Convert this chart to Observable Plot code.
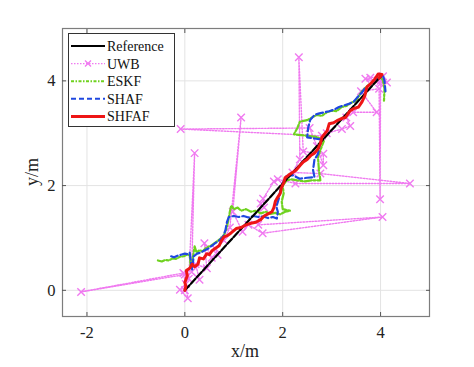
<!DOCTYPE html>
<html><head><meta charset="utf-8">
<script src="https://cdn.jsdelivr.net/npm/d3@7"></script>
<script src="https://cdn.jsdelivr.net/npm/@observablehq/plot@0.6"></script>
<style>body{margin:0;background:#fff;} svg{background:#fff;}</style>
</head><body><div id="chart"></div>
<script>
const seriesNames = ["Reference","UWB","ESKF","SHAF","SHFAF"];
const xTicks = [-2,0,2,4];
const yTicks = [0,2,4];

const reference = [[0,0],[4,4.08]];

const uwb = [[0,0],[-0.1,0.01],[0.06,-0.15],[0.02,0.12],[-0.03,0.33],[-2.12,-0.03],[0.0,0.3],[0.08,0.22],[0.2,2.62],[0.14,0.35],[0.3,0.2],[0.22,0.5],[0.45,0.42],[0.4,0.9],[0.55,0.62],[0.67,0.68],[0.62,0.8],[0.8,0.95],[0.92,1.2],[1.15,3.3],[0.98,1.5],[1.18,1.12],[1.3,1.25],[1.59,1.09],[4.04,1.40],[1.5,1.25],[1.55,1.66],[1.62,1.58],[1.6,1.75],[1.82,2.08],[1.9,2.12],[2.26,2.04],[4.6,2.04],[2.77,2.23],[2.2,2.25],[2.35,2.5],[2.33,4.45],[2.42,2.65],[2.83,2.61],[2.83,2.39],[2.7,2.75],[2.55,3.1],[-0.085,3.08],[2.8,2.95],[2.9,3.0],[3.21,3.08],[3.38,3.14],[3.3,3.3],[3.44,3.4],[3.92,3.4],[3.6,3.8],[3.97,3.85],[3.99,1.74],[4.0,3.95],[3.69,4.04],[3.79,4.06],[4.05,4.09],[4.13,3.97],[4.0,4.0]];

const eskf = [[-0.55,0.57],[-0.47,0.55],[-0.4,0.58],[-0.33,0.57],[-0.25,0.61],[-0.18,0.6],[-0.1,0.64],[-0.02,0.65],[0.05,0.69],[0.1,0.66],[0.12,0.45],[0.16,0.6],[0.2,0.84],[0.24,0.72],[0.3,0.77],[0.36,0.74],[0.42,0.8],[0.5,0.84],[0.58,0.88],[0.65,0.93],[0.72,0.98],[0.8,1.05],[0.85,1.18],[0.88,1.3],[0.92,1.5],[0.95,1.62],[1.0,1.55],[1.08,1.58],[1.15,1.52],[1.25,1.55],[1.35,1.5],[1.45,1.52],[1.55,1.47],[1.65,1.5],[1.75,1.46],[1.85,1.48],[1.95,1.45],[2.05,1.5],[2.15,1.52],[2.0,1.55],[1.98,1.7],[2.02,1.85],[2.0,2.0],[2.08,2.1],[2.18,2.12],[2.3,2.1],[2.45,2.08],[2.6,2.1],[2.77,2.1],[2.74,2.3],[2.72,2.55],[2.78,2.7],[2.84,2.85],[2.7,2.93],[2.5,2.95],[2.23,2.98],[2.3,3.1],[2.35,3.22],[2.5,3.25],[2.6,3.3],[2.7,3.35],[2.8,3.33],[2.9,3.4],[3.0,3.43],[3.1,3.42],[3.2,3.5],[3.3,3.52],[3.4,3.58],[3.5,3.62],[3.55,3.7],[3.62,3.8],[3.7,3.88],[3.8,3.95],[3.9,4.02],[4.0,4.08],[4.05,4.0],[4.08,3.85],[4.07,3.62]];

const shaf = [[-0.28,0.65],[-0.22,0.63],[-0.15,0.66],[-0.08,0.68],[0.0,0.7],[0.05,0.69],[0.1,0.72],[0.13,0.5],[0.15,0.4],[0.18,0.65],[0.25,0.7],[0.32,0.72],[0.4,0.76],[0.48,0.8],[0.55,0.85],[0.62,0.9],[0.7,0.95],[0.78,1.02],[0.83,1.15],[0.86,1.3],[0.9,1.4],[1.0,1.42],[1.1,1.4],[1.2,1.42],[1.3,1.39],[1.4,1.42],[1.5,1.4],[1.6,1.41],[1.7,1.38],[1.8,1.4],[1.88,1.37],[1.9,1.5],[1.87,1.6],[1.92,1.75],[1.95,1.9],[2.0,2.05],[2.08,2.18],[2.2,2.2],[2.35,2.13],[2.5,2.15],[2.65,2.16],[2.62,2.3],[2.65,2.5],[2.72,2.6],[2.75,2.75],[2.8,2.88],[2.65,2.9],[2.5,2.92],[2.52,3.1],[2.56,3.25],[2.65,3.35],[2.75,3.38],[2.85,3.4],[2.95,3.42],[3.05,3.45],[3.15,3.5],[3.25,3.53],[3.35,3.56],[3.45,3.6],[3.52,3.68],[3.6,3.76],[3.68,3.85],[3.78,3.93],[3.88,4.0],[3.97,4.05],[4.05,4.1],[4.08,4.0],[4.1,3.8]];

const shfaf = [[0,0],[0.02,0.08],[0.0,0.15],[0.05,0.28],[0.03,0.38],[0.1,0.42],[0.15,0.5],[0.2,0.45],[0.27,0.5],[0.3,0.62],[0.38,0.6],[0.45,0.7],[0.5,0.68],[0.55,0.75],[0.62,0.8],[0.7,0.85],[0.75,0.95],[0.8,1.02],[0.88,1.05],[0.95,1.1],[1.05,1.18],[1.15,1.2],[1.25,1.25],[1.35,1.28],[1.45,1.3],[1.55,1.35],[1.62,1.42],[1.7,1.46],[1.78,1.5],[1.82,1.58],[1.85,1.7],[1.9,1.78],[1.95,1.85],[1.97,1.95],[2.02,2.05],[2.05,2.15],[2.12,2.2],[2.2,2.25],[2.28,2.3],[2.35,2.38],[2.42,2.45],[2.5,2.5],[2.58,2.58],[2.65,2.62],[2.72,2.7],[2.77,2.8],[2.8,2.92],[2.91,3.05],[2.95,3.18],[3.04,3.2],[3.11,3.24],[3.2,3.28],[3.28,3.3],[3.38,3.43],[3.45,3.47],[3.55,3.5],[3.62,3.6],[3.68,3.72],[3.72,3.88],[3.8,3.95],[3.88,4.03],[3.95,4.13],[4.03,4.12],[3.97,4.05]];

const colors = {Reference:"#000000", UWB:"#f07af0", ESKF:"#6fd21f", SHAF:"#1f48e0", SHFAF:"#ee1515"};
const font = "'Liberation Serif', 'Times New Roman', serif";
const fmt = d => String(d);

const chart = Plot.plot({
  width: 474, height: 367,
  marginLeft: 62, marginRight: 45, marginTop: 28, marginBottom: 51,
  style: {fontFamily: font, background: "#fff"},
  x: {domain: [-2.5, 5]},
  y: {domain: [-0.5, 5]},
  marks: [
    Plot.gridX(xTicks, {stroke: "#e3e3e3", strokeOpacity: 1}),
    Plot.gridY(yTicks, {stroke: "#e3e3e3", strokeOpacity: 1}),
    Plot.line(uwb, {x: d => d[0], y: d => d[1], stroke: colors.UWB, strokeWidth: 1.4, strokeDasharray: "1.5,1.5"}),
    Plot.dot(uwb, {x: d => d[0], y: d => d[1], symbol: "times", r: 3.5, stroke: colors.UWB, strokeWidth: 1.4}),
    Plot.line(eskf, {x: d => d[0], y: d => d[1], stroke: colors.ESKF, strokeWidth: 2.2, strokeDasharray: "7,2,2,2"}),
    Plot.line(shaf, {x: d => d[0], y: d => d[1], stroke: colors.SHAF, strokeWidth: 2.2, strokeDasharray: "7,3"}),
    Plot.line(reference, {x: d => d[0], y: d => d[1], stroke: colors.Reference, strokeWidth: 2.2, strokeDasharray: "7,2"}),
    Plot.line(shfaf, {x: d => d[0], y: d => d[1], stroke: colors.SHFAF, strokeWidth: 3}),
    Plot.frame({stroke: "#7d7d7d", strokeWidth: 1.2}),
    Plot.axisX(xTicks, {anchor: "bottom", tickSize: -4, stroke: "#555", tickPadding: 14, fontSize: 16.5, fill: "#222", label: null, tickFormat: fmt, fontFamily: font}),
    Plot.axisX(xTicks, {anchor: "top", tickSize: -4, stroke: "#555", tickFormat: () => "", label: null}),
    Plot.axisY(yTicks, {anchor: "left", tickSize: -4, stroke: "#555", tickPadding: 11, fontSize: 16.5, fill: "#222", label: null, tickFormat: fmt, fontFamily: font}),
    Plot.axisY(yTicks, {anchor: "right", tickSize: -4, stroke: "#555", tickFormat: () => "", label: null})
  ]
});
document.getElementById("chart").appendChild(chart);

const svg = d3.select(chart);
// axis titles
svg.append("text").attr("x", 245).attr("y", 357).attr("text-anchor", "middle")
  .style("font-family", font).attr("font-size", 18).attr("fill", "#222").text("x/m");
svg.append("text").attr("transform", "translate(38,172) rotate(-90)").attr("text-anchor", "middle")
  .style("font-family", font).attr("font-size", 18).attr("fill", "#222").text("y/m");

// legend
const lg = svg.append("g");
lg.append("rect").attr("x", 68.5).attr("y", 33.5).attr("width", 106).attr("height", 93)
  .attr("fill", "#fff").attr("stroke", "#333").attr("stroke-width", 1);
const styles = {
  Reference: {w: 2.2, dash: null},
  UWB: {w: 1.4, dash: "1.5,1.5"},
  ESKF: {w: 2, dash: "3,1.5,1.5,1.5"},
  SHAF: {w: 2, dash: "5,3"},
  SHFAF: {w: 3, dash: null}
};
seriesNames.forEach((name, i) => {
  const yy = 46 + i * 17.6;
  const s = styles[name];
  const l = lg.append("line").attr("x1", 71).attr("x2", 105).attr("y1", yy).attr("y2", yy)
    .attr("stroke", colors[name]).attr("stroke-width", s.w);
  if (s.dash) l.attr("stroke-dasharray", s.dash);
  if (name === "UWB") {
    lg.append("path").attr("d", `M${88-3},${yy-3}L${88+3},${yy+3}M${88-3},${yy+3}L${88+3},${yy-3}`)
      .attr("stroke", colors[name]).attr("stroke-width", 1.4);
  }
  lg.append("text").attr("x", 107).attr("y", yy).attr("dy", "0.35em").attr("text-anchor", "start")
    .style("font-family", font).attr("font-size", 14).attr("fill", "#111").text(name);
});
</script></body></html>
